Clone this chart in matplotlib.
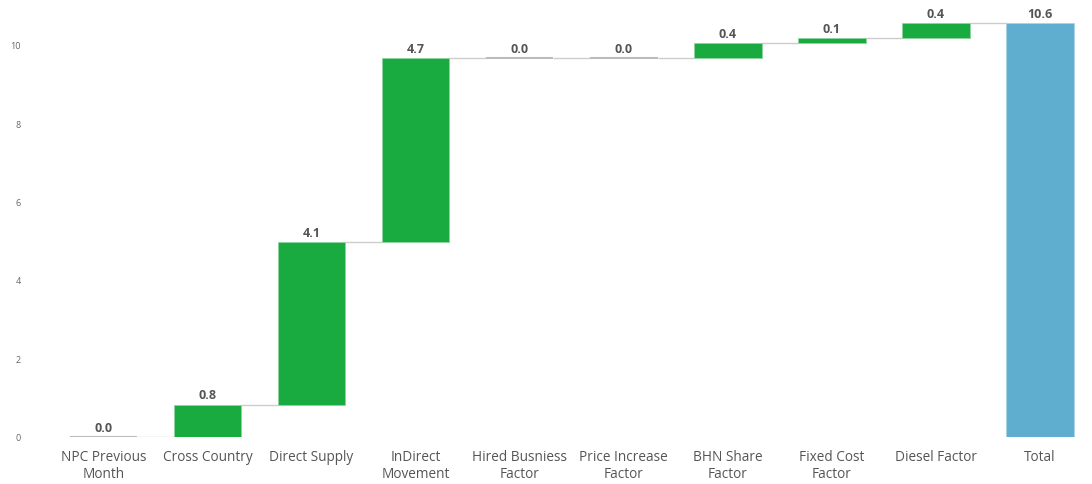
import numpy as np
import matplotlib.pyplot as plt

categories = ["NPC Previous\nMonth", "Cross Country", "Direct Supply", "InDirect\nMovement",
              "Hired Busniess\nFactor", "Price Increase\nFactor", "BHN Share\nFactor",
              "Fixed Cost\nFactor", "Diesel Factor", "Total"]
steps = [0.0, 0.82, 4.14, 4.69, 0.01, 0.004, 0.38, 0.12, 0.39]
yticks = [0, 2, 4, 6, 8, 10]

green = "#1aab40"
blue = "#5fadcf"
conn = "#cccccc"

plt.rcParams['font.family'] = ['Open Sans', 'DejaVu Sans']

steps = np.array(steps)
ends = np.cumsum(steps)
starts = ends - steps
total = ends[-1]

fig = plt.figure(figsize=(10.92, 4.85), dpi=100)
ax = fig.add_axes([0.047, 0.0975, 0.953, 0.889])
w = 0.65
x = np.arange(len(categories))

for i, (s, v) in enumerate(zip(starts, steps)):
    if v < 0.05:
        ax.hlines(s + v, i - w/2, i + w/2, color="#bbbbbb", lw=1.5, zorder=3)
    else:
        ax.bar(i, v, bottom=s, width=w, color=green, edgecolor="#8fd3a0", lw=0.6, zorder=2)
    ax.text(i, s + v + 0.08, f"{v:.1f}", ha="center", va="bottom",
            fontsize=9, fontweight="bold", color="#555555")

ax.bar(x[-1], total, width=w, color=blue, edgecolor="#a9d3e6", lw=0.6, zorder=2)
ax.text(x[-1], total + 0.08, f"{total:.1f}", ha="center", va="bottom",
        fontsize=9, fontweight="bold", color="#555555")

# connectors between bars
for i in range(len(categories) - 1):
    ax.hlines(ends[i], i + w/2, i + 1 - w/2, color=conn, lw=1, zorder=1)

ax.set_xlim(-0.5, 9.5)
ax.set_ylim(0, 11)
ax.set_xticks(x)
ax.set_xticklabels(categories, fontsize=9.8, color="#555555", linespacing=1.2)
ax.set_yticks(yticks)
ax.set_yticklabels([str(t) for t in yticks], fontsize=6.5, color="#666666")
ax.tick_params(axis="both", length=0)
ax.tick_params(axis="x", pad=9)
ax.tick_params(axis="y", pad=22)
for sp in ax.spines.values():
    sp.set_visible(False)

plt.savefig("out.png", dpi=100)
